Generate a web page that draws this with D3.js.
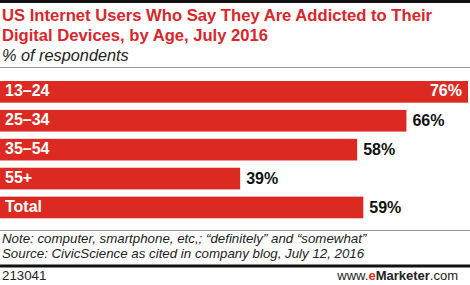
<!DOCTYPE html>
<html>
<head>
<meta charset="utf-8">
<script src="https://cdn.jsdelivr.net/npm/d3@7"></script>
<style>
  body { margin: 0; background: #fff; }
  svg { display: block; font-family: "Liberation Sans", Arial, Helvetica, sans-serif; }
</style>
</head>
<body>
<div id="chart"></div>
<script>
// data
const categories = ["13–24", "25–34", "35–54", "55+", "Total"];
const values = [76, 66, 58, 39, 59];
const titleLines = ["US Internet Users Who Say They Are Addicted to Their", "Digital Devices, by Age, July 2016"];
const subtitle = "% of respondents";
const notes = ["Note: computer, smartphone, etc,; “definitely” and “somewhat”", "Source: CivicScience as cited in company blog, July 12, 2016"];
const chartId = "213041";

const width = 470;
const height = 285;
const red = "#dc2a22";

const svg = d3.select("#chart")
  .append("svg")
  .attr("width", width)
  .attr("height", height);

// top black rule
svg.append("rect").attr("x", 0).attr("y", 0).attr("width", width).attr("height", 3).attr("fill", "#111");

// title
svg.append("g")
  .selectAll("text")
  .data(titleLines)
  .join("text")
  .attr("x", 2)
  .attr("y", (d, i) => 21 + i * 20)
  .attr("fill", "#d8262b")
  .attr("font-weight", "bold")
  .attr("font-size", 15.8)
  .attr("textLength", (d, i) => i === 0 ? 430 : 266)
  .attr("lengthAdjust", "spacingAndGlyphs")
  .text(d => d);

svg.append("text")
  .attr("x", 2)
  .attr("y", 61)
  .attr("font-style", "italic")
  .attr("font-size", 16.3)
  .attr("fill", "#222")
  .text(subtitle);

svg.append("line")
  .attr("x1", 0).attr("x2", width)
  .attr("y1", 67.5).attr("y2", 67.5)
  .attr("stroke", "#999").attr("stroke-width", 1);

// scales
const x = d3.scaleLinear().domain([0, 76]).range([0, 468]);
const y = d3.scaleBand()
  .domain(categories)
  .range([77.4, 221.9])
  .paddingInner(0.25)
  .paddingOuter(0.125);

const row = svg.append("g")
  .selectAll("g")
  .data(categories.map((c, i) => ({ name: c, value: values[i] })))
  .join("g")
  .attr("transform", d => `translate(0,${y(d.name)})`);

row.append("rect")
  .attr("x", 0)
  .attr("width", d => x(d.value))
  .attr("height", y.bandwidth())
  .attr("fill", red);

row.append("text")
  .attr("x", 5)
  .attr("y", y.bandwidth() / 2 + 4.5)
  .attr("fill", "#fff")
  .attr("font-weight", "bold")
  .attr("font-size", 16)
  .text(d => d.name);

// value labels: first one sits inside the bar
row.append("text")
  .attr("x", (d, i) => i === 0 ? x(d.value) - 6 : x(d.value) + 6)
  .attr("y", (d, i) => y.bandwidth() / 2 + (i === 0 ? 4.5 : 5.5))
  .attr("text-anchor", (d, i) => i === 0 ? "end" : "start")
  .attr("fill", (d, i) => i === 0 ? "#fff" : "#111")
  .attr("font-weight", "bold")
  .attr("font-size", 16)
  .text(d => d.value + "%");

// footer
svg.append("line")
  .attr("x1", 0).attr("x2", width)
  .attr("y1", 230.5).attr("y2", 230.5)
  .attr("stroke", "#999").attr("stroke-width", 1);

svg.append("g")
  .selectAll("text")
  .data(notes)
  .join("text")
  .attr("x", 2)
  .attr("y", (d, i) => 243 + i * 15)
  .attr("font-style", "italic")
  .attr("font-size", 13.3)
  .attr("fill", "#222")
  .text(d => d);

svg.append("rect").attr("x", 0).attr("y", 264.5).attr("width", width).attr("height", 3).attr("fill", "#111");

svg.append("text")
  .attr("x", 2)
  .attr("y", 280)
  .attr("font-size", 13.3)
  .attr("fill", "#222")
  .text(chartId);

const brand = svg.append("text")
  .attr("x", 458)
  .attr("y", 280)
  .attr("text-anchor", "end")
  .attr("font-size", 13)
  .attr("fill", "#222");
brand.append("tspan").text("www.");
brand.append("tspan").attr("fill", red).attr("font-weight", "bold").text("e");
brand.append("tspan").attr("font-weight", "bold").text("Marketer");
brand.append("tspan").text(".com");
</script>
</body>
</html>
